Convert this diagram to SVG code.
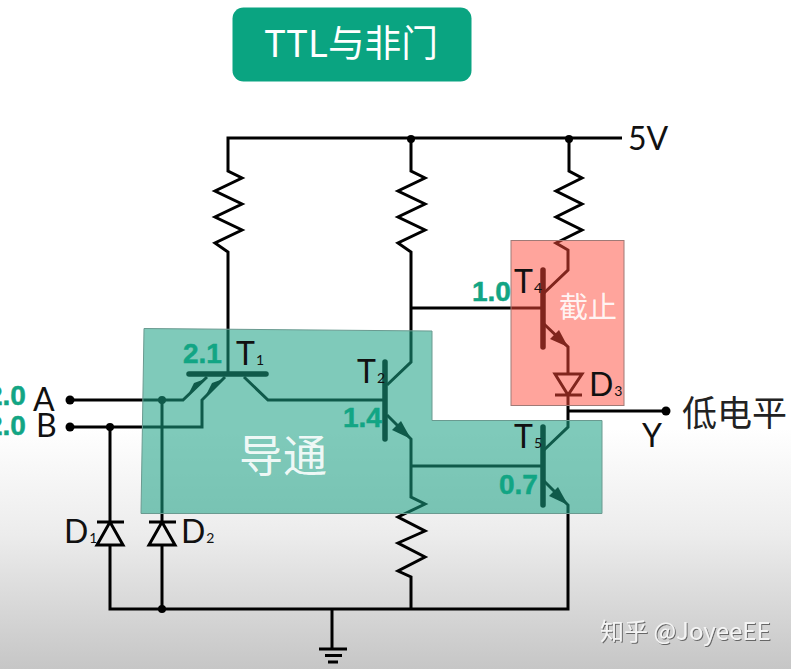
<svg xmlns="http://www.w3.org/2000/svg" width="791" height="669" viewBox="0 0 791 669">
<defs>
<linearGradient id="bg" x1="0" y1="0" x2="0" y2="1"><stop offset="0" stop-color="#fff"/><stop offset="0.64" stop-color="#fff"/><stop offset="0.8" stop-color="#ececec"/><stop offset="1" stop-color="#c6c6c6"/></linearGradient>
<filter id="sh" x="-5%" y="-20%" width="110%" height="140%"><feDropShadow dx="1" dy="1" stdDeviation="0.6" flood-color="#666"/></filter>
</defs>
<style>
.w{fill:none;stroke:#000;stroke-width:3;stroke-linejoin:miter}
.bar{fill:none;stroke:#000;stroke-width:5.500;stroke-linecap:round}
.t{font-family:"Lato","Liberation Sans",sans-serif;font-weight:400;fill:#111;font-size:32px}
.s{font-size:14px}
.v{font-family:"Liberation Sans",sans-serif;font-weight:700;fill:#12a584;font-size:28px;stroke:#12a584;stroke-width:.5px}
.c{font-family:"Noto Sans CJK SC",sans-serif}
</style>
<rect width="791" height="669" fill="url(#bg)"/>
<g id="title"><rect x="232.500" y="7.500" width="239" height="74" rx="11" fill="#0aa481"/><text x="351" y="57" text-anchor="middle" class="c" font-size="37" fill="#fff" textLength="174" lengthAdjust="spacingAndGlyphs">TTL与非门</text></g>
<g id="connectors">
<path class="w" d="M622 138H228V171L242 178L215 191L242 204L215 217L242 230L215 243L228 252V374"/>
<path class="w" d="M411 138V171L425 178L398 191L425 204L398 217L425 230L398 243L411 252V362L387 385"/>
<path class="w" d="M569 138V171L582 178L556 191L582 204L556 217L582 230L556 243L568 250V270L544 293"/>
<path class="w" d="M411 308H543"/>
<path class="w" d="M544 324L568 347V374M568 395V427L544 450"/>
<path class="w" d="M568 411H665"/>
<path class="w" d="M411 466H543"/>
<path class="w" d="M387 415L411 439V497L425 504L398 517L425 531L398 543L425 557L398 571L411 577V609"/>
<path class="w" d="M544 481L568 505V609H110V545M110 522V427"/>
<path class="w" d="M162 609V545M162 522V400"/>
<path class="w" d="M70 400H183L207 377M70 427H202V400L225 377"/>
<path class="w" d="M244 377L268 400H385"/>
<path class="w" d="M332 609V649"/>
<path class="w" d="M319 649H347M325 655.500H342M328 662H338"/>
<g fill="#000" stroke="none">
<path d="M205 379L188 395L194 383Z"/><path d="M223 379L206 395L212 383Z"/>
<path d="M411 439L392 430L401 421Z"/><path d="M568 347L550 339L559 330Z"/><path d="M568 505L549 496L558 487Z"/>
</g>
<g class="bar"><path d="M189 374H266"/><path d="M385 362V439"/><path d="M543 270V347"/><path d="M543 427V505"/></g>
<path class="w" d="M110 522L123 545H97ZM97 522H124"/>
<path class="w" d="M162 522L175 545H149ZM149 522H176"/>
<path class="w" d="M568 395L555 374H582ZM555 395H582"/>
<g fill="#000"><circle cx="70" cy="400" r="4.500"/><circle cx="70" cy="427" r="4.500"/><circle cx="110" cy="427" r="4"/><circle cx="162" cy="400" r="4"/><circle cx="162" cy="609" r="4"/><circle cx="411" cy="139" r="4"/><circle cx="569" cy="139" r="4"/><circle cx="666" cy="411" r="4.500"/></g>
</g>
<g id="overlay-on"><path d="M144 328.500L432 331V420.500H602V513.500H141Z" fill="#1ba084" fill-opacity="0.56" stroke="#6a9a90" stroke-width="1"/><text x="283" y="472" text-anchor="middle" class="c" font-size="44" fill="#fff" fill-opacity=".9">导通</text></g>
<g id="overlay-off"><rect x="511" y="240.500" width="113" height="165" fill="#ff4a3a" fill-opacity="0.5" stroke="#a07a76" stroke-width="1"/><text x="588" y="318" text-anchor="middle" class="c" font-size="29" fill="#fff" fill-opacity=".9">截止</text></g>
<g id="labels">
<text class="t" x="628" y="150">5V</text>
<text class="t" x="33" y="411">A</text><text class="t" x="36" y="437">B</text>
<text class="v" x="-13" y="405">2.0</text><text class="v" x="-13" y="435">2.0</text>
<text class="v" x="183" y="363">2.1</text>
<text class="t" x="236" y="365">T<tspan class="s" dx="1">1</tspan></text>
<text class="t" x="357" y="383">T<tspan class="s" dx="1">2</tspan></text>
<text class="v" x="343" y="427">1.4</text>
<text class="v" x="472" y="301">1.0</text>
<text class="t" x="514" y="293" fill="#5a1a14">T<tspan class="s" dx="1">4</tspan></text>
<text class="t" x="514" y="448" fill="#124a3e">T<tspan class="s" dx="1">5</tspan></text>
<text class="v" x="499" y="494">0.7</text>
<text class="t" x="589" y="396" fill="#5a1a14">D<tspan class="s" dx="1">3</tspan></text>
<text class="t" x="64" y="543">D<tspan class="s" dx="1">1</tspan></text>
<text class="t" x="181" y="543">D<tspan class="s" dx="1">2</tspan></text>
<text class="t" x="642" y="447">Y</text>
<text class="c" x="682" y="426" font-size="35" fill="#222">低电平</text>
<text class="c" x="600" y="640" font-size="24" fill="#f4f4f4" filter="url(#sh)">知乎 @JoyeeEE</text>
</g>
</svg>
